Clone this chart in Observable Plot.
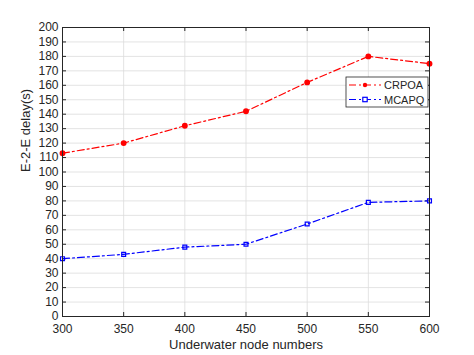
<!DOCTYPE html>
<html>
<head>
<meta charset="utf-8">
<script src="https://cdn.jsdelivr.net/npm/d3@7"></script>
<script src="https://cdn.jsdelivr.net/npm/@observablehq/plot@0.6"></script>
<style>
  html, body { margin: 0; padding: 0; background: #fff; }
  #chart { position: relative; width: 474px; height: 355px; }
</style>
</head>
<body>
<div id="chart"></div>
<script>
const nodes = [300, 350, 400, 450, 500, 550, 600];
const crpoa = [113, 120, 132, 142, 162, 180, 175];
const mcapq = [40, 43, 48, 50, 64, 79, 80];
const xTicks = [300, 350, 400, 450, 500, 550, 600];
const yTicks = d3.range(0, 201, 10);
const seriesNames = ["CRPOA", "MCAPQ"];
const seriesColors = ["#ff0000", "#0000ff"];

const data = [
  ...nodes.map((x, i) => ({x, y: crpoa[i], s: "CRPOA"})),
  ...nodes.map((x, i) => ({x, y: mcapq[i], s: "MCAPQ"}))
];

const W = 474, H = 355;
const mL = 62, mR = 45, mT = 27, mB = 39;
const tickLen = 4;
const pxPerX = (W - mL - mR) / (600 - 300);
const pxPerY = (H - mT - mB) / 200;
const dash = "7,3,2,3";
const textColor = "#262626";

const plot = Plot.plot({
  width: W, height: H,
  marginLeft: mL, marginRight: mR, marginTop: mT, marginBottom: mB,
  style: {fontFamily: "Liberation Sans, Arial, sans-serif", fontSize: "11px", color: textColor, background: "#fff"},
  x: {domain: [300, 600], ticks: xTicks, label: null},
  y: {domain: [0, 200], ticks: yTicks, label: null},
  marks: [
    Plot.gridX(xTicks, {stroke: "#dcdcdc", strokeOpacity: 1, strokeWidth: 0.8}),
    Plot.gridY(yTicks, {stroke: "#dcdcdc", strokeOpacity: 1, strokeWidth: 0.8}),
    Plot.ruleX(xTicks, {y1: 0, y2: tickLen / pxPerY, stroke: textColor}),
    Plot.ruleX(xTicks, {y1: 200, y2: 200 - tickLen / pxPerY, stroke: textColor}),
    Plot.ruleY(yTicks, {x1: 300, x2: 300 + tickLen / pxPerX, stroke: textColor}),
    Plot.ruleY(yTicks, {x1: 600, x2: 600 - tickLen / pxPerX, stroke: textColor}),
    Plot.axisX(xTicks, {tickSize: 0, tickPadding: 8, fontSize: 12, fill: textColor, label: null}),
    Plot.axisY(yTicks, {tickSize: 0, tickPadding: 4, fontSize: 12, fill: textColor, label: null}),
    Plot.line(data, {x: "x", y: "y", z: "s", stroke: "s", strokeWidth: 1.2, strokeDasharray: dash}),
    Plot.dot(data.filter(d => d.s === "CRPOA"), {x: "x", y: "y", r: 2.2, fill: "#ff0000", stroke: "#ff0000"}),
    Plot.dot(data.filter(d => d.s === "MCAPQ"), {x: "x", y: "y", symbol: "square", r: 2.2, fill: "none", stroke: "#0000ff", strokeWidth: 1.2}),
    Plot.frame({stroke: textColor, strokeWidth: 1}),
    Plot.text(["Underwater node numbers"], {frameAnchor: "bottom", dy: 32, fontSize: 13, fill: textColor}),
    Plot.text(["E-2-E delay(s)"], {frameAnchor: "left", dx: -37, rotate: -90, fontSize: 13, fill: textColor})
  ],
  color: {domain: seriesNames, range: seriesColors}
});

const svg = d3.select(plot);
const lg = svg.append("g").attr("transform", "translate(346,77)")
  .attr("font-family", "Liberation Sans, Arial, sans-serif").attr("font-size", 11)
  .attr("text-anchor", "start");
lg.append("rect").attr("width", 82).attr("height", 30).attr("fill", "#fff").attr("stroke", textColor).attr("stroke-width", 0.8);
seriesNames.forEach((name, i) => {
  const yy = 8 + i * 14.5;
  const c = seriesColors[i];
  lg.append("line").attr("x1", 3).attr("x2", 35).attr("y1", yy).attr("y2", yy)
    .attr("stroke", c).attr("stroke-width", 1.2).attr("stroke-dasharray", dash);
  if (i === 0) lg.append("circle").attr("cx", 19).attr("cy", yy).attr("r", 2.2).attr("fill", c);
  else lg.append("rect").attr("x", 16.8).attr("y", yy - 2.2).attr("width", 4.4).attr("height", 4.4).attr("fill", "#fff").attr("stroke", c).attr("stroke-width", 1.2);
  lg.append("text").attr("x", 38).attr("y", yy + 4).attr("fill", textColor).attr("text-anchor", "start").text(name);
});

document.getElementById("chart").appendChild(plot);
</script>
</body>
</html>
